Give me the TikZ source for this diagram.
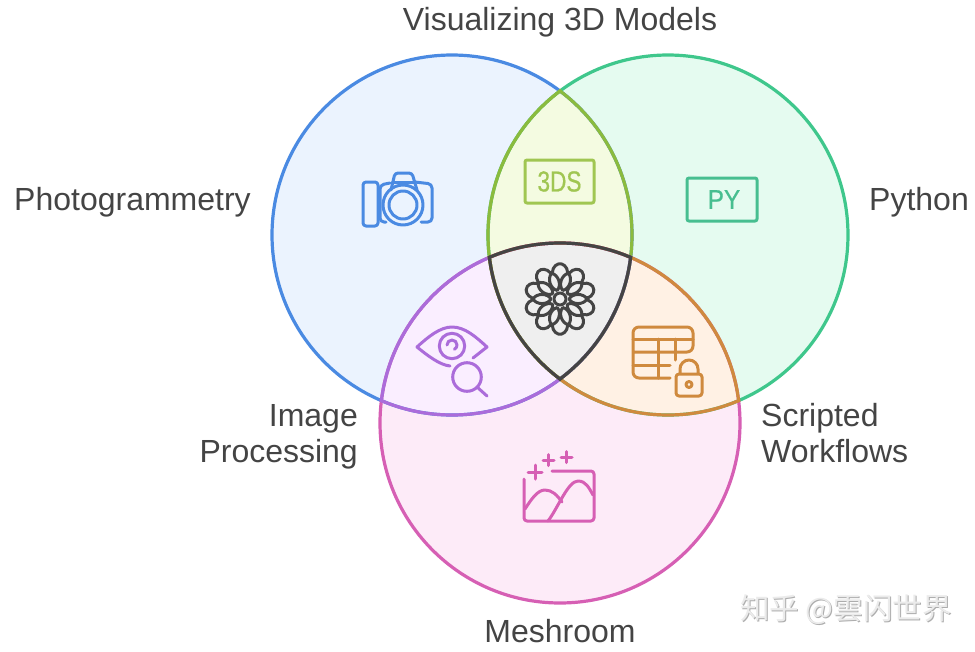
\documentclass[tikz,border=0pt]{standalone}
\usepackage{fontspec}
\setmainfont{Liberation Sans}
\newfontfamily\cjk{Noto Sans CJK SC}
\definecolor{inkdark}{HTML}{444444}
\definecolor{lineblue}{HTML}{4A8AE2}
\definecolor{linegreen}{HTML}{3FC78C}
\definecolor{linepink}{HTML}{D65FB4}
\definecolor{lineolive}{HTML}{8BBB3E}
\definecolor{linepurple}{HTML}{AB6CDA}
\definecolor{lineorange}{HTML}{CF8A3E}
\definecolor{iconolive}{HTML}{A0C652}
\definecolor{icongreen}{HTML}{47BE90}
\definecolor{fillblue}{HTML}{EBF3FE}
\definecolor{fillgreen}{HTML}{E5FBF0}
\definecolor{fillpink}{HTML}{FDEBF8}
\definecolor{fillolive}{HTML}{F4FBE1}
\definecolor{fillpurple}{HTML}{FAEEFF}
\definecolor{fillorange}{HTML}{FFF1E4}
\definecolor{fillgrey}{HTML}{EFEFEF}
\tikzset{
  ring/.style={line width=3.2pt},
  icon/.style={line width=3pt,line cap=round,line join=round},
  label/.style={font=\fontsize{32}{36}\selectfont,text=inkdark,inner sep=0pt},
}
\begin{document}
\begin{tikzpicture}[x=1pt,y=-1pt]
\useasboundingbox (0,0) rectangle (975,651);
\coordinate (blue) at (452,235);
\coordinate (green) at (668,235);
\coordinate (pink) at (560,423);
\fill[fillblue] (blue) circle[radius=180];
\fill[fillgreen] (green) circle[radius=180];
\fill[fillpink] (pink) circle[radius=180];
\begin{scope}
\clip (blue) circle[radius=180];
\fill[fillolive] (green) circle[radius=180];
\fill[fillpurple] (pink) circle[radius=180];
\end{scope}
\begin{scope}
\clip (green) circle[radius=180];
\fill[fillorange] (pink) circle[radius=180];
\clip (blue) circle[radius=180];
\fill[fillgrey] (pink) circle[radius=180];
\end{scope}
\draw[ring,lineblue] (blue) circle[radius=180];
\draw[ring,linegreen] (green) circle[radius=180];
\draw[ring,linepink] (pink) circle[radius=180];
\begin{scope}
\clip (green) circle[radius=181.6];
\draw[ring,lineolive] (blue) circle[radius=180];
\end{scope}
\begin{scope}
\clip (blue) circle[radius=181.6];
\draw[ring,lineolive] (green) circle[radius=180];
\end{scope}
\begin{scope}
\clip (pink) circle[radius=181.6];
\draw[ring,linepurple] (blue) circle[radius=180];
\end{scope}
\begin{scope}
\clip (blue) circle[radius=181.6];
\draw[ring,linepurple] (pink) circle[radius=180];
\end{scope}
\begin{scope}
\clip (pink) circle[radius=181.6];
\draw[ring,lineorange] (green) circle[radius=180];
\end{scope}
\begin{scope}
\clip (green) circle[radius=181.6];
\draw[ring,lineorange] (pink) circle[radius=180];
\end{scope}
\begin{scope}
\clip (pink) circle[radius=181.6];
\clip (green) circle[radius=181.6];
\draw[ring,inkdark] (blue) circle[radius=180];
\end{scope}
\begin{scope}
\clip (pink) circle[radius=181.6];
\clip (blue) circle[radius=181.6];
\draw[ring,inkdark] (green) circle[radius=180];
\end{scope}
\begin{scope}
\clip (blue) circle[radius=181.6];
\clip (green) circle[radius=181.6];
\draw[ring,inkdark] (pink) circle[radius=180];
\end{scope}
\node[label,anchor=base] (title) at (560,30) {Visualizing 3D Models};
\node[label,anchor=base west] (photo) at (14,210) {Photogrammetry};
\node[label,anchor=base west] (python) at (869,210) {Python};
\node[label,anchor=base east] (image) at (358,426) {Image};
\node[label,anchor=base east] (processing) at (358,462) {Processing};
\node[label,anchor=base west] (scripted) at (761,426) {Scripted};
\node[label,anchor=base west] (workflows) at (761,462) {Workflows};
\node[label,anchor=base] (meshroom) at (560,642) {Meshroom};
\begin{scope}[icon,lineblue]
\draw[rounded corners=3pt] (363,182) rectangle (378,226);
\draw[rounded corners=4pt] (390,183) -- (380,185) -- (380,222) -- (386,222);
\draw[rounded corners=4pt] (415,182) -- (432,184) -- (432,222) -- (421,222);
\draw[rounded corners=3pt] (391,190) -- (395,173) -- (412,173) -- (417,190);
\draw (392,182) -- (415,182);
\draw (403,205) circle[radius=20];
\draw (403,205) circle[radius=14];
\end{scope}
\draw[icon,iconolive,rounded corners=2pt] (525,160) rectangle (594,203);
\node[iconolive,inner sep=0pt,font=\addfontfeature{FakeBold=0.6}\fontsize{29}{32}\selectfont,xscale=.78,transform shape] (threeds) at (559.5,181.5) {3DS};
\draw[icon,icongreen,rounded corners=2pt] (687,178) rectangle (757,221);
\node[icongreen,inner sep=0pt,font=\addfontfeature{FakeBold=0.6}\fontsize{27}{30}\selectfont,xscale=.9,transform shape] (py) at (724,199.5) {PY};
\begin{scope}[icon,inkdark,shift={(560,299)}]
\draw (0,0) circle[radius=6];
\foreach \a in {0,36,...,324}
  \draw (\a:9) to[bend left=60] (\a:27) to[bend left=60] (\a:9);
\draw[rounded corners=2pt] (0:26)
  \foreach \a in {18,54,...,342} { -- (\a-11:33) -- (\a:36) -- (\a+11:33) -- (\a+18:26) } -- cycle;
\end{scope}
\begin{scope}[icon,linepurple]
\draw (450,366) .. controls (440,365) and (428,356) .. (417,347) .. controls (428,337) and (440,327) .. (452,327) .. controls (465,327) and (476,337) .. (487,347) -- (473,358);
\draw (452,346) circle[radius=12.7];
\draw (447,345) arc[start angle=180,end angle=420,radius=5];
\draw (467,377) circle[radius=14.3];
\draw (477,387) -- (487,396);
\end{scope}
\begin{scope}[icon,lineorange]
\draw[rounded corners=6pt] (670,378) -- (633,378) -- (633,327) -- (693,327) -- (693,352) -- (633,352);
\draw (633,339) -- (693,339);
\draw (633,365) -- (670,365);
\draw (658,339) -- (658,378);
\draw (675,339) -- (675,360);
\draw[rounded corners=3pt] (676,374) rectangle (702,396);
\draw (680,373) -- (680,369) arc[start angle=180,end angle=360,radius=9] -- (698,373);
\draw (689,384.5) circle[radius=3];
\end{scope}
\begin{scope}[icon,linepink]
\draw[rounded corners=3pt] (524,479) -- (524,521) -- (594,521) -- (594,471) -- (552,471);
\draw (525,509) .. controls (532,498) and (538,490) .. (545,490) .. controls (552,490) and (557,495) .. (562,502);
\draw (548,521) .. controls (558,508) and (568,481) .. (578,481) .. controls (586,481) and (589,488) .. (593,495);
\draw (528,472) -- (542,472) (535,465) -- (535,479);
\draw (543,460) -- (554,460) (548.5,454.5) -- (548.5,465.5);
\draw (561,457) -- (572,457) (566.5,451.5) -- (566.5,462.5);
\end{scope}
\node[anchor=west,inner sep=0pt,text=black!32,font=\cjk\fontsize{29.5}{32}\selectfont] (markshade) at (740.8,610.8) {知乎 @雲闪世界};
\node[anchor=west,inner sep=0pt,text=black!8,font=\cjk\fontsize{29.5}{32}\selectfont] (mark) at (740,610) {知乎 @雲闪世界};
\end{tikzpicture}
\end{document}
